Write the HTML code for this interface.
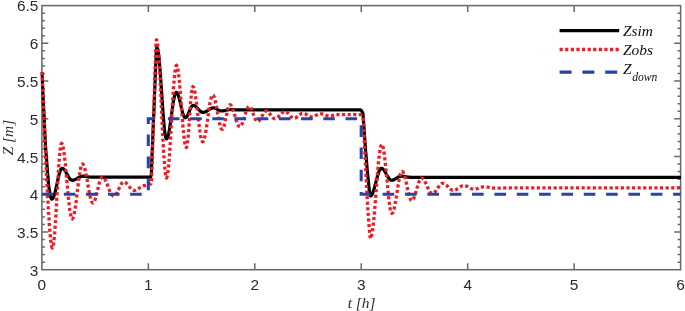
<!DOCTYPE html>
<html lang="en"><head><meta charset="utf-8"><title>Z vs t</title>
<style>html,body{margin:0;padding:0;background:#fff;}svg{display:block;}</style>
</head><body>
<svg width="685" height="311" viewBox="0 0 685 311">
<rect width="685" height="311" fill="#fff"/>
<g stroke="#67686b" stroke-width="1.5" fill="none">
<rect x="41.9" y="5.6" width="638.7" height="264.09999999999997"/>
<path d="M148.35 269.7 v-6.4 M148.35 5.6 v6.4 M254.80 269.7 v-6.4 M254.80 5.6 v6.4 M361.25 269.7 v-6.4 M361.25 5.6 v6.4 M467.70 269.7 v-6.4 M467.70 5.6 v6.4 M574.15 269.7 v-6.4 M574.15 5.6 v6.4 M41.9 262.15 h3.0 M680.6 262.15 h-3.0 M41.9 254.61 h3.0 M680.6 254.61 h-3.0 M41.9 247.06 h3.0 M680.6 247.06 h-3.0 M41.9 239.52 h3.0 M680.6 239.52 h-3.0 M41.9 231.97 h6.4 M680.6 231.97 h-6.4 M41.9 224.43 h3.0 M680.6 224.43 h-3.0 M41.9 216.88 h3.0 M680.6 216.88 h-3.0 M41.9 209.33 h3.0 M680.6 209.33 h-3.0 M41.9 201.79 h3.0 M680.6 201.79 h-3.0 M41.9 194.24 h6.4 M680.6 194.24 h-6.4 M41.9 186.70 h3.0 M680.6 186.70 h-3.0 M41.9 179.15 h3.0 M680.6 179.15 h-3.0 M41.9 171.61 h3.0 M680.6 171.61 h-3.0 M41.9 164.06 h3.0 M680.6 164.06 h-3.0 M41.9 156.51 h6.4 M680.6 156.51 h-6.4 M41.9 148.97 h3.0 M680.6 148.97 h-3.0 M41.9 141.42 h3.0 M680.6 141.42 h-3.0 M41.9 133.88 h3.0 M680.6 133.88 h-3.0 M41.9 126.33 h3.0 M680.6 126.33 h-3.0 M41.9 118.79 h6.4 M680.6 118.79 h-6.4 M41.9 111.24 h3.0 M680.6 111.24 h-3.0 M41.9 103.69 h3.0 M680.6 103.69 h-3.0 M41.9 96.15 h3.0 M680.6 96.15 h-3.0 M41.9 88.60 h3.0 M680.6 88.60 h-3.0 M41.9 81.06 h6.4 M680.6 81.06 h-6.4 M41.9 73.51 h3.0 M680.6 73.51 h-3.0 M41.9 65.97 h3.0 M680.6 65.97 h-3.0 M41.9 58.42 h3.0 M680.6 58.42 h-3.0 M41.9 50.87 h3.0 M680.6 50.87 h-3.0 M41.9 43.33 h6.4 M680.6 43.33 h-6.4 M41.9 35.78 h3.0 M680.6 35.78 h-3.0 M41.9 28.24 h3.0 M680.6 28.24 h-3.0 M41.9 20.69 h3.0 M680.6 20.69 h-3.0 M41.9 13.15 h3.0 M680.6 13.15 h-3.0"/>
</g>
<g font-family="'Liberation Sans', Arial, sans-serif" font-size="15.4" fill="#2a2a2a">
<text x="38.4" y="275.8" text-anchor="end">3</text>
<text x="38.4" y="238.1" text-anchor="end">3.5</text>
<text x="38.4" y="200.3" text-anchor="end">4</text>
<text x="38.4" y="162.6" text-anchor="end">4.5</text>
<text x="38.4" y="124.9" text-anchor="end">5</text>
<text x="38.4" y="87.2" text-anchor="end">5.5</text>
<text x="38.4" y="49.4" text-anchor="end">6</text>
<text x="38.4" y="11.1" text-anchor="end">6.5</text>
<text x="41.9" y="289.5" text-anchor="middle">0</text>
<text x="148.3" y="289.5" text-anchor="middle">1</text>
<text x="254.8" y="289.5" text-anchor="middle">2</text>
<text x="361.2" y="289.5" text-anchor="middle">3</text>
<text x="467.7" y="289.5" text-anchor="middle">4</text>
<text x="574.1" y="289.5" text-anchor="middle">5</text>
<text x="680.6" y="289.5" text-anchor="middle">6</text>
</g>
<g font-family="'Liberation Serif', 'Times New Roman', serif" font-style="italic" font-size="15.4" fill="#2a2a2a">
<text x="361.6" y="307.6" text-anchor="middle">t [h]</text>
<text transform="translate(13.1 137.6) rotate(-90)" text-anchor="middle">Z [m]</text>
</g>
<clipPath id="c"><rect x="40.4" y="5.6" width="641.7" height="264.09999999999997"/></clipPath>
<g clip-path="url(#c)" fill="none" stroke-linejoin="round">
<path d="M41.9 72.0 L42.2 77.3 L42.4 82.6 L42.7 87.9 L42.9 93.1 L43.2 98.4 L43.4 103.7 L43.7 109.0 L44.0 114.3 L44.2 119.6 L44.5 124.9 L44.7 130.1 L45.0 135.4 L45.2 140.7 L45.5 146.0 L45.7 148.7 L45.9 151.4 L46.1 154.1 L46.4 156.9 L46.6 159.6 L46.8 162.3 L47.0 165.0 L47.2 167.7 L47.4 170.4 L47.6 173.1 L47.9 175.9 L48.1 178.6 L48.3 181.3 L48.5 184.0 L48.7 185.7 L49.0 187.4 L49.2 189.0 L49.5 190.6 L49.7 192.1 L50.0 193.5 L50.2 194.7 L50.4 195.9 L50.7 196.9 L50.9 197.7 L51.2 198.3 L51.4 198.8 L51.7 199.1 L51.9 199.2 L52.6 198.8 L53.4 197.7 L54.1 195.8 L54.8 193.4 L55.5 190.5 L56.3 187.2 L57.0 183.8 L57.7 180.3 L58.5 177.0 L59.2 174.1 L59.9 171.7 L60.6 169.8 L61.4 168.7 L62.1 168.3 L62.8 168.5 L63.5 168.9 L64.3 169.6 L65.0 170.6 L65.7 171.7 L66.4 173.0 L67.2 174.3 L67.9 175.6 L68.6 176.9 L69.3 178.0 L70.0 179.0 L70.8 179.7 L71.5 180.1 L72.2 180.3 L73.0 180.2 L73.7 180.1 L74.5 179.9 L75.2 179.5 L76.0 179.1 L76.7 178.7 L77.5 178.2 L78.3 177.8 L79.0 177.4 L79.8 177.0 L80.5 176.6 L81.3 176.4 L82.0 176.3 L82.8 176.2 L83.5 176.2 L84.1 176.2 L84.8 176.3 L85.4 176.4 L86.1 176.5 L86.7 176.6 L87.4 176.7 L88.1 176.8 L88.7 176.9 L89.4 177.0 L90.0 177.1 L90.7 177.2 L91.3 177.2 L92.0 177.2 L96.2 177.2 L100.3 177.2 L104.5 177.2 L108.7 177.2 L112.8 177.2 L117.0 177.2 L121.2 177.2 L125.3 177.2 L129.5 177.2 L133.6 177.2 L137.8 177.2 L142.0 177.2 L146.1 177.2 L150.3 177.2 L150.4 177.2 L150.4 177.1 L150.5 177.1 L150.6 176.9 L150.7 176.8 L150.7 176.6 L150.8 176.4 L150.9 176.2 L150.9 176.0 L151.0 175.7 L151.1 175.5 L151.2 175.2 L151.2 174.9 L151.3 174.6 L151.6 167.0 L151.9 159.4 L152.2 151.8 L152.5 144.1 L152.8 136.5 L153.1 128.9 L153.4 121.3 L153.8 113.7 L154.1 106.1 L154.4 98.5 L154.7 90.8 L155.0 83.2 L155.3 75.6 L155.6 68.0 L155.7 65.7 L155.8 63.4 L155.9 61.2 L156.0 59.1 L156.1 57.1 L156.2 55.2 L156.2 53.5 L156.3 52.0 L156.4 50.6 L156.5 49.5 L156.6 48.7 L156.7 48.0 L156.8 47.6 L156.9 47.5 L157.6 48.6 L158.3 52.0 L159.0 57.5 L159.6 64.7 L160.3 73.4 L161.0 83.1 L161.7 93.2 L162.4 103.4 L163.1 113.1 L163.8 121.8 L164.4 129.0 L165.1 134.5 L165.8 137.9 L166.5 139.0 L167.2 138.4 L167.9 136.7 L168.6 133.9 L169.3 130.2 L170.0 125.8 L170.7 120.8 L171.4 115.7 L172.1 110.5 L172.8 105.5 L173.5 101.1 L174.2 97.4 L174.9 94.6 L175.6 92.9 L176.3 92.3 L176.9 92.6 L177.6 93.6 L178.2 95.1 L178.9 97.1 L179.5 99.5 L180.2 102.2 L180.8 105.0 L181.4 107.9 L182.1 110.6 L182.7 113.0 L183.4 115.0 L184.0 116.5 L184.7 117.5 L185.3 117.8 L185.9 117.6 L186.4 117.2 L187.0 116.4 L187.6 115.5 L188.1 114.3 L188.7 113.0 L189.2 111.6 L189.8 110.2 L190.4 108.9 L190.9 107.7 L191.5 106.8 L192.1 106.0 L192.6 105.6 L193.2 105.4 L193.9 105.5 L194.6 105.7 L195.3 106.2 L196.0 106.7 L196.7 107.4 L197.4 108.1 L198.1 108.9 L198.8 109.7 L199.5 110.4 L200.2 111.1 L200.9 111.6 L201.6 112.1 L202.3 112.3 L203.0 112.4 L203.8 112.3 L204.5 112.2 L205.2 111.9 L206.0 111.6 L206.8 111.1 L207.5 110.7 L208.2 110.2 L209.0 109.6 L209.8 109.2 L210.5 108.7 L211.2 108.4 L212.0 108.1 L212.8 108.0 L213.5 107.9 L214.1 107.9 L214.6 108.1 L215.2 108.2 L215.8 108.5 L216.3 108.8 L216.9 109.1 L217.4 109.5 L218.0 109.8 L218.6 110.1 L219.1 110.4 L219.7 110.7 L220.3 110.8 L220.8 111.0 L221.4 111.0 L222.0 111.0 L222.6 110.9 L223.2 110.8 L223.9 110.7 L224.5 110.6 L225.1 110.5 L225.7 110.3 L226.3 110.1 L226.9 110.0 L227.5 109.9 L228.2 109.8 L228.8 109.7 L229.4 109.6 L230.0 109.6 L230.7 109.6 L231.4 109.6 L232.1 109.6 L232.9 109.7 L233.6 109.7 L234.3 109.7 L235.0 109.8 L235.7 109.8 L236.4 109.8 L237.1 109.8 L237.9 109.9 L238.6 109.9 L239.3 109.9 L240.0 109.9 L248.6 109.9 L257.2 109.9 L265.8 109.9 L274.4 109.9 L283.0 109.9 L291.6 109.9 L300.1 109.9 L308.7 109.9 L317.3 109.9 L325.9 109.9 L334.5 109.9 L343.1 109.9 L351.7 109.9 L360.3 109.9 L360.5 109.9 L360.7 110.0 L360.9 110.1 L361.1 110.3 L361.3 110.5 L361.5 110.7 L361.6 111.0 L361.8 111.3 L362.0 111.6 L362.2 111.9 L362.4 112.3 L362.6 112.7 L362.8 113.1 L363.0 113.5 L363.5 121.4 L364.1 129.0 L364.6 136.4 L365.1 143.6 L365.6 150.6 L366.2 157.2 L366.7 163.6 L367.2 169.7 L367.8 175.5 L368.3 180.8 L368.8 185.7 L369.3 190.0 L369.9 193.7 L370.4 196.0 L371.2 195.7 L372.0 194.6 L372.8 193.0 L373.5 190.8 L374.3 188.2 L375.1 185.2 L375.9 182.2 L376.7 179.1 L377.5 176.1 L378.3 173.5 L379.0 171.3 L379.8 169.7 L380.6 168.6 L381.4 168.3 L382.1 168.5 L382.8 168.9 L383.6 169.6 L384.3 170.6 L385.0 171.7 L385.7 173.0 L386.4 174.3 L387.2 175.6 L387.9 176.9 L388.6 178.0 L389.3 179.0 L390.1 179.7 L390.8 180.1 L391.5 180.3 L392.2 180.2 L392.9 180.1 L393.6 179.9 L394.3 179.5 L395.0 179.1 L395.7 178.7 L396.4 178.2 L397.0 177.8 L397.7 177.4 L398.4 177.0 L399.1 176.6 L399.8 176.4 L400.5 176.3 L401.2 176.2 L401.9 176.2 L402.6 176.3 L403.3 176.3 L404.0 176.4 L404.7 176.5 L405.4 176.6 L406.1 176.8 L406.8 176.9 L407.5 177.0 L408.2 177.1 L408.9 177.2 L409.6 177.2 L410.3 177.3 L411.0 177.3 L430.3 177.3 L449.6 177.3 L468.9 177.3 L488.1 177.3 L507.4 177.3 L526.7 177.3 L546.0 177.3 L565.3 177.3 L584.6 177.3 L603.9 177.3 L623.1 177.3 L642.4 177.3 L661.7 177.3 L681.0 177.3" stroke="#000" stroke-width="3.2"/>
<path d="M41.9 72.0 L42.3 80.1 L42.6 88.3 L43.0 96.4 L43.4 104.6 L43.7 112.7 L44.1 120.9 L44.5 129.0 L44.8 137.1 L45.2 145.3 L45.5 153.4 L45.9 161.6 L46.3 169.7 L46.6 177.9 L47.0 186.0 L47.2 188.9 L47.4 191.9 L47.5 194.8 L47.7 197.7 L47.9 200.6 L48.1 203.6 L48.2 206.5 L48.4 209.4 L48.6 212.4 L48.8 215.3 L49.0 218.2 L49.1 221.1 L49.3 224.1 L49.5 227.0 L49.7 229.4 L49.9 231.7 L50.1 233.9 L50.3 236.1 L50.5 238.2 L50.7 240.1 L51.0 241.8 L51.2 243.4 L51.4 244.8 L51.6 245.9 L51.8 246.8 L52.0 247.5 L52.2 247.9 L52.4 248.0 L53.1 246.7 L53.7 242.8 L54.4 236.6 L55.0 228.3 L55.7 218.4 L56.3 207.3 L57.0 195.7 L57.7 184.0 L58.3 172.9 L59.0 163.0 L59.6 154.7 L60.3 148.5 L60.9 144.6 L61.6 143.3 L62.4 144.2 L63.1 147.0 L63.9 151.5 L64.6 157.5 L65.4 164.7 L66.1 172.7 L66.9 181.1 L67.7 189.5 L68.4 197.5 L69.2 204.7 L69.9 210.7 L70.7 215.2 L71.4 218.0 L72.2 218.9 L72.9 218.2 L73.7 216.2 L74.4 212.9 L75.1 208.5 L75.9 203.3 L76.6 197.5 L77.3 191.4 L78.1 185.3 L78.8 179.5 L79.6 174.3 L80.3 169.9 L81.0 166.6 L81.8 164.6 L82.5 163.9 L83.2 164.4 L84.0 165.8 L84.7 168.2 L85.5 171.3 L86.2 175.0 L87.0 179.1 L87.7 183.4 L88.4 187.8 L89.2 191.9 L89.9 195.6 L90.7 198.7 L91.4 201.1 L92.2 202.5 L92.9 203.0 L93.6 202.7 L94.2 201.7 L94.9 200.2 L95.6 198.1 L96.3 195.7 L96.9 192.9 L97.6 190.1 L98.3 187.2 L98.9 184.4 L99.6 182.0 L100.3 179.9 L101.0 178.4 L101.6 177.4 L102.3 177.1 L103.1 177.3 L103.9 178.0 L104.7 179.2 L105.6 180.7 L106.4 182.4 L107.2 184.4 L108.0 186.5 L108.8 188.7 L109.6 190.7 L110.4 192.4 L111.3 193.9 L112.1 195.1 L112.9 195.8 L113.7 196.0 L114.4 195.8 L115.1 195.3 L115.9 194.5 L116.6 193.4 L117.3 192.0 L118.0 190.6 L118.8 189.0 L119.5 187.4 L120.2 186.0 L120.9 184.6 L121.6 183.5 L122.4 182.7 L123.1 182.2 L123.8 182.0 L124.5 182.1 L125.3 182.4 L126.0 182.9 L126.7 183.6 L127.4 184.4 L128.2 185.3 L128.9 186.2 L129.6 187.1 L130.4 188.0 L131.1 188.8 L131.8 189.5 L132.5 190.0 L133.3 190.3 L134.0 190.4 L134.8 190.3 L135.6 190.2 L136.4 189.9 L137.1 189.5 L137.9 189.0 L138.7 188.5 L139.5 188.0 L140.3 187.4 L141.1 186.9 L141.9 186.4 L142.6 186.0 L143.4 185.7 L144.2 185.6 L145.0 185.5 L145.4 185.5 L145.8 185.4 L146.2 185.3 L146.6 185.2 L147.0 185.1 L147.4 184.9 L147.8 184.8 L148.2 184.6 L148.6 184.4 L149.0 184.3 L149.4 184.2 L149.8 184.1 L150.2 184.0 L150.6 184.0 L150.7 184.0 L150.7 183.9 L150.8 183.8 L150.9 183.7 L150.9 183.5 L151.0 183.3 L151.1 183.1 L151.1 182.9 L151.2 182.6 L151.2 182.3 L151.3 182.0 L151.4 181.7 L151.4 181.3 L151.5 181.0 L151.8 172.5 L152.1 164.0 L152.3 155.5 L152.6 147.0 L152.9 138.5 L153.2 130.0 L153.4 121.5 L153.7 113.0 L154.0 104.5 L154.3 96.0 L154.6 87.5 L154.8 79.0 L155.1 70.5 L155.4 62.0 L155.5 59.5 L155.6 57.0 L155.6 54.6 L155.7 52.3 L155.8 50.1 L155.9 48.1 L155.9 46.2 L156.0 44.6 L156.1 43.1 L156.2 41.9 L156.3 41.0 L156.3 40.3 L156.4 39.8 L156.5 39.7 L157.2 41.4 L157.9 46.5 L158.6 54.8 L159.4 65.7 L160.1 78.8 L160.8 93.5 L161.5 108.8 L162.2 124.2 L162.9 138.9 L163.6 152.0 L164.4 162.9 L165.1 171.2 L165.8 176.3 L166.5 178.0 L167.2 176.6 L167.9 172.4 L168.6 165.7 L169.4 156.8 L170.1 146.1 L170.8 134.2 L171.5 121.7 L172.2 109.1 L172.9 97.2 L173.6 86.5 L174.4 77.6 L175.1 70.9 L175.8 66.7 L176.5 65.3 L177.2 66.3 L177.9 69.4 L178.6 74.3 L179.3 80.8 L180.0 88.6 L180.7 97.3 L181.4 106.4 L182.1 115.6 L182.8 124.3 L183.5 132.1 L184.2 138.6 L184.9 143.5 L185.6 146.6 L186.3 147.6 L186.8 146.8 L187.2 144.6 L187.7 140.9 L188.2 136.1 L188.7 130.3 L189.1 123.9 L189.6 117.1 L190.1 110.3 L190.5 103.9 L191.0 98.1 L191.5 93.3 L192.0 89.6 L192.4 87.4 L192.9 86.6 L193.6 87.3 L194.3 89.3 L195.0 92.6 L195.7 97.0 L196.4 102.2 L197.1 108.1 L197.8 114.2 L198.5 120.3 L199.2 126.2 L199.9 131.4 L200.6 135.8 L201.3 139.1 L202.0 141.1 L202.7 141.8 L203.4 141.2 L204.1 139.5 L204.8 136.7 L205.6 133.0 L206.3 128.6 L207.0 123.6 L207.7 118.4 L208.4 113.2 L209.1 108.2 L209.8 103.8 L210.6 100.1 L211.3 97.3 L212.0 95.6 L212.7 95.0 L213.4 95.4 L214.1 96.7 L214.7 98.8 L215.4 101.5 L216.1 104.7 L216.8 108.4 L217.4 112.2 L218.1 116.0 L218.8 119.7 L219.5 122.9 L220.2 125.6 L220.8 127.7 L221.5 129.0 L222.2 129.4 L222.8 129.1 L223.3 128.2 L223.9 126.7 L224.4 124.8 L225.0 122.4 L225.5 119.8 L226.1 117.1 L226.7 114.3 L227.2 111.7 L227.8 109.3 L228.3 107.4 L228.9 105.9 L229.4 105.0 L230.0 104.7 L230.7 105.0 L231.4 105.8 L232.1 107.1 L232.8 108.9 L233.5 111.0 L234.2 113.3 L234.9 115.8 L235.6 118.2 L236.3 120.5 L237.0 122.6 L237.7 124.4 L238.4 125.7 L239.1 126.5 L239.8 126.8 L240.5 126.5 L241.1 125.8 L241.8 124.6 L242.5 123.0 L243.2 121.1 L243.8 118.9 L244.5 116.7 L245.2 114.4 L245.8 112.2 L246.5 110.3 L247.2 108.7 L247.9 107.5 L248.5 106.8 L249.2 106.5 L249.8 106.7 L250.4 107.2 L251.0 108.1 L251.6 109.3 L252.2 110.7 L252.8 112.3 L253.3 114.0 L253.9 115.7 L254.5 117.3 L255.1 118.7 L255.7 119.9 L256.3 120.8 L256.9 121.3 L257.5 121.5 L258.1 121.4 L258.8 121.0 L259.4 120.4 L260.0 119.5 L260.7 118.5 L261.3 117.4 L261.9 116.2 L262.6 115.1 L263.2 114.0 L263.9 113.0 L264.5 112.1 L265.1 111.5 L265.8 111.1 L266.4 111.0 L267.0 111.1 L267.6 111.4 L268.2 111.8 L268.8 112.4 L269.4 113.2 L270.0 114.0 L270.5 114.8 L271.1 115.6 L271.7 116.4 L272.3 117.2 L272.9 117.8 L273.5 118.2 L274.1 118.5 L274.7 118.6 L275.4 118.5 L276.2 118.2 L276.9 117.8 L277.6 117.3 L278.4 116.6 L279.1 115.8 L279.9 115.0 L280.6 114.3 L281.3 113.5 L282.1 112.8 L282.8 112.3 L283.5 111.9 L284.3 111.6 L285.0 111.5 L285.6 111.6 L286.3 111.8 L286.9 112.2 L287.6 112.8 L288.2 113.4 L288.9 114.1 L289.5 114.8 L290.1 115.6 L290.8 116.3 L291.4 116.9 L292.1 117.5 L292.7 117.9 L293.4 118.1 L294.0 118.2 L294.6 118.1 L295.3 118.0 L295.9 117.7 L296.6 117.3 L297.2 116.8 L297.9 116.3 L298.5 115.8 L299.1 115.2 L299.8 114.7 L300.4 114.2 L301.1 113.8 L301.7 113.5 L302.4 113.4 L303.0 113.3 L303.6 113.3 L304.3 113.5 L304.9 113.7 L305.5 114.0 L306.1 114.3 L306.8 114.7 L307.4 115.0 L308.0 115.4 L308.7 115.8 L309.3 116.1 L309.9 116.4 L310.5 116.6 L311.2 116.8 L311.8 116.8 L312.4 116.8 L313.1 116.7 L313.7 116.5 L314.3 116.2 L315.0 116.0 L315.6 115.6 L316.2 115.3 L316.9 115.0 L317.5 114.6 L318.2 114.4 L318.8 114.1 L319.4 113.9 L320.1 113.8 L320.7 113.8 L321.3 113.8 L322.0 113.9 L322.6 114.0 L323.2 114.2 L323.8 114.4 L324.5 114.6 L325.1 114.8 L325.7 115.1 L326.4 115.3 L327.0 115.5 L327.6 115.7 L328.2 115.8 L328.9 115.9 L329.5 115.9 L330.1 115.9 L330.7 115.8 L331.3 115.8 L331.9 115.7 L332.5 115.5 L333.1 115.4 L333.8 115.2 L334.4 115.1 L335.0 115.0 L335.6 114.8 L336.2 114.7 L336.8 114.7 L337.4 114.6 L338.0 114.6 L339.6 114.6 L341.2 114.6 L342.8 114.6 L344.4 114.6 L346.0 114.6 L347.6 114.6 L349.1 114.7 L350.7 114.7 L352.3 114.7 L353.9 114.7 L355.5 114.7 L357.1 114.7 L358.7 114.7 L360.3 114.7 L360.5 114.7 L360.7 114.8 L361.0 115.0 L361.2 115.2 L361.4 115.5 L361.6 115.9 L361.9 116.3 L362.1 116.7 L362.3 117.2 L362.5 117.7 L362.7 118.2 L363.0 118.8 L363.2 119.4 L363.4 120.0 L363.9 131.3 L364.4 142.3 L364.9 153.0 L365.4 163.3 L365.9 173.3 L366.4 182.9 L366.9 192.1 L367.4 200.8 L367.9 209.1 L368.4 216.7 L368.9 223.8 L369.4 230.0 L369.9 235.2 L370.4 238.6 L371.2 237.4 L372.0 233.9 L372.8 228.3 L373.7 220.9 L374.5 211.9 L375.3 202.0 L376.1 191.5 L376.9 181.0 L377.7 171.1 L378.5 162.1 L379.4 154.7 L380.2 149.1 L381.0 145.6 L381.8 144.4 L382.5 145.3 L383.2 147.8 L384.0 151.9 L384.7 157.4 L385.4 164.0 L386.1 171.3 L386.9 178.9 L387.6 186.6 L388.3 193.9 L389.0 200.5 L389.7 206.0 L390.5 210.1 L391.2 212.6 L391.9 213.5 L392.6 213.0 L393.4 211.4 L394.1 208.9 L394.8 205.6 L395.5 201.6 L396.3 197.1 L397.0 192.5 L397.7 187.8 L398.5 183.3 L399.2 179.3 L399.9 176.0 L400.6 173.5 L401.4 171.9 L402.1 171.4 L402.8 171.8 L403.5 172.8 L404.2 174.6 L404.9 176.9 L405.6 179.7 L406.3 182.8 L407.0 186.0 L407.6 189.2 L408.3 192.3 L409.0 195.1 L409.7 197.4 L410.4 199.2 L411.1 200.2 L411.8 200.6 L412.5 200.3 L413.2 199.5 L413.9 198.1 L414.6 196.3 L415.3 194.2 L416.0 191.8 L416.7 189.3 L417.4 186.8 L418.1 184.4 L418.8 182.3 L419.5 180.5 L420.2 179.1 L420.9 178.3 L421.6 178.0 L422.4 178.2 L423.1 178.8 L423.9 179.7 L424.6 180.9 L425.4 182.4 L426.1 184.0 L426.9 185.8 L427.7 187.5 L428.4 189.1 L429.2 190.6 L429.9 191.8 L430.7 192.7 L431.4 193.3 L432.2 193.5 L433.0 193.4 L433.7 193.0 L434.5 192.4 L435.2 191.6 L436.0 190.6 L436.7 189.5 L437.5 188.4 L438.3 187.3 L439.0 186.2 L439.8 185.2 L440.5 184.4 L441.3 183.8 L442.0 183.4 L442.8 183.3 L443.6 183.4 L444.3 183.7 L445.1 184.1 L445.8 184.6 L446.6 185.3 L447.3 186.1 L448.1 186.8 L448.9 187.6 L449.6 188.4 L450.4 189.1 L451.1 189.6 L451.9 190.0 L452.6 190.3 L453.4 190.4 L454.2 190.3 L454.9 190.2 L455.7 189.9 L456.4 189.5 L457.2 189.0 L457.9 188.5 L458.7 188.0 L459.5 187.5 L460.2 187.0 L461.0 186.5 L461.7 186.1 L462.5 185.8 L463.2 185.7 L464.0 185.6 L464.7 185.6 L465.4 185.8 L466.1 186.0 L466.9 186.3 L467.6 186.6 L468.3 187.0 L469.0 187.4 L469.7 187.8 L470.4 188.2 L471.1 188.5 L471.9 188.8 L472.6 189.0 L473.3 189.2 L474.0 189.2 L474.7 189.2 L475.4 189.1 L476.1 188.9 L476.9 188.7 L477.6 188.5 L478.3 188.3 L479.0 188.0 L479.7 187.7 L480.4 187.5 L481.1 187.3 L481.9 187.1 L482.6 186.9 L483.3 186.8 L484.0 186.8 L484.8 186.8 L485.6 186.9 L486.4 187.0 L487.1 187.1 L487.9 187.2 L488.7 187.3 L489.5 187.5 L490.3 187.7 L491.1 187.8 L491.9 187.9 L492.6 188.0 L493.4 188.1 L494.2 188.2 L495.0 188.2 L496.1 188.2 L497.1 188.2 L498.2 188.2 L499.3 188.1 L500.4 188.1 L501.4 188.0 L502.5 188.0 L503.6 188.0 L504.6 187.9 L505.7 187.9 L506.8 187.8 L507.9 187.8 L508.9 187.8 L510.0 187.8 L522.2 187.8 L534.4 187.8 L546.6 187.8 L558.9 187.8 L571.1 187.8 L583.3 187.8 L595.5 187.8 L607.7 187.8 L619.9 187.8 L632.1 187.8 L644.4 187.8 L656.6 187.8 L668.8 187.8 L681.0 187.8" stroke="#ee1c25" stroke-width="3.3" stroke-dasharray="3.15 2.45"/>
<path d="M41.9 194.2 H148.3 V118.8 H158" stroke="#2546a8" stroke-width="3.1" stroke-dasharray="11.6 10.5" stroke-dashoffset="0.2" stroke-linejoin="miter"/>
<path d="M160 118.8 H361.2 V194.2 H373" stroke="#2546a8" stroke-width="3.1" stroke-dasharray="11.6 10.6" stroke-dashoffset="-7.9" stroke-linejoin="miter"/>
<path d="M373 194.2 H680.6" stroke="#2546a8" stroke-width="3.1" stroke-dasharray="11.6 10.74" stroke-dashoffset="-9.7"/>
</g>
<g fill="none">
<path d="M559.6 30.7 H619.2" stroke="#000" stroke-width="3.2"/>
<path d="M559.6 49.5 H619.2" stroke="#ee1c25" stroke-width="3.3" stroke-dasharray="3.15 2.45"/>
<path d="M559.6 72.1 H619.2" stroke="#2546a8" stroke-width="3.1" stroke-dasharray="12 10.8"/>
</g>
<g font-family="'Liberation Serif', 'Times New Roman', serif" font-style="italic" font-size="15.4" fill="#111">
<text x="623" y="36.2">Zsim</text>
<text x="623" y="54.8">Zobs</text>
<text x="623" y="74.2">Z<tspan font-size="11.6" dx="0.6" dy="6.4">down</tspan></text>
</g>
</svg>
</body></html>
